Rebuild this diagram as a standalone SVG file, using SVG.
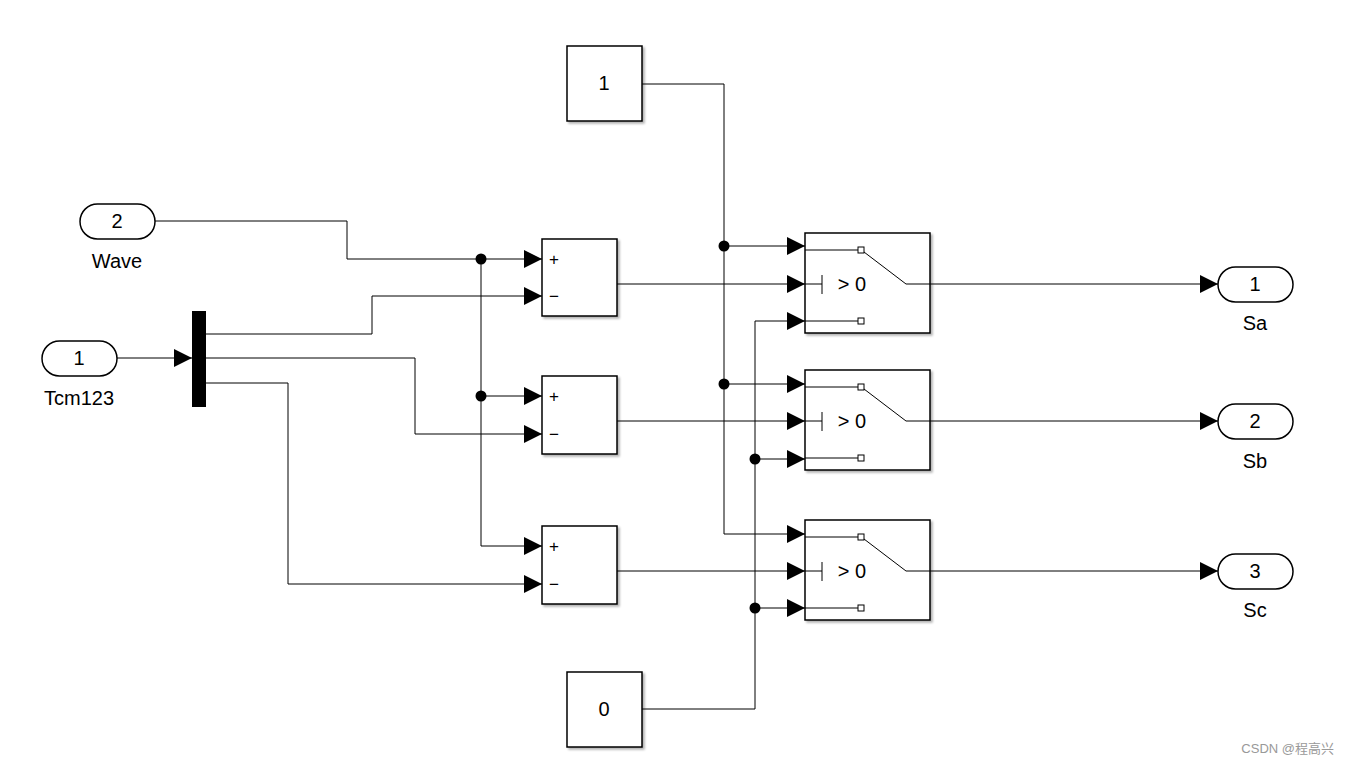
<svg xmlns="http://www.w3.org/2000/svg" width="1350" height="766" viewBox="0 0 1350 766">
<style>
.b{fill:#fff;stroke:#000;stroke-width:1.5}
.w{fill:none;stroke:#000;stroke-width:1}
.t{font-family:"Liberation Sans",Arial,sans-serif;font-size:20px;text-anchor:middle;fill:#000}
.s{font-family:"Liberation Sans",Arial,sans-serif;font-size:17px;fill:#000}
.sq{fill:#fff;stroke:#000;stroke-width:1}
</style>
<defs>
<marker id="a" markerWidth="18" markerHeight="18" refX="18" refY="9" orient="auto" markerUnits="userSpaceOnUse"><path d="M0,0L18,9L0,18Z"/></marker>
<filter id="sh"><feDropShadow dx="2" dy="2" stdDeviation="1" flood-opacity="0.3"/></filter>
</defs>
<rect width="1350" height="766" fill="#fff"/>
<g id="connectors" class="w">
<path d="M155,221H347V259H542" marker-end="url(#a)"/>
<path d="M481,259V546H542" marker-end="url(#a)"/>
<path d="M481,396H542" marker-end="url(#a)"/>
<path d="M206,334H372V296H542" marker-end="url(#a)"/>
<path d="M206,358H415V434H542" marker-end="url(#a)"/>
<path d="M206,383H288V584H542" marker-end="url(#a)"/>
<path d="M117,358H192" marker-end="url(#a)"/>
<path d="M642,84H724V534H805" marker-end="url(#a)"/>
<path d="M724,246H805" marker-end="url(#a)"/>
<path d="M724,384H805" marker-end="url(#a)"/>
<path d="M642,709H755V321H805" marker-end="url(#a)"/>
<path d="M755,459H805" marker-end="url(#a)"/>
<path d="M755,608H805" marker-end="url(#a)"/>
<path d="M617,284H805" marker-end="url(#a)"/>
<path d="M617,421H805" marker-end="url(#a)"/>
<path d="M617,571H805" marker-end="url(#a)"/>
<path d="M930,284H1218" marker-end="url(#a)"/>
<path d="M930,421H1218" marker-end="url(#a)"/>
<path d="M930,571H1218" marker-end="url(#a)"/>
<g fill="#000" stroke="none">
<circle cx="481" cy="259" r="5.5"/><circle cx="481" cy="396" r="5.5"/>
<circle cx="724" cy="246" r="5.5"/><circle cx="724" cy="384" r="5.5"/>
<circle cx="755" cy="459" r="5.5"/><circle cx="755" cy="608" r="5.5"/>
</g>
</g>
<g id="wave"><rect class="b" x="80" y="204" width="75" height="35" rx="17.5"/><text class="t" x="117" y="228">2</text><text class="t" x="117" y="268">Wave</text></g>
<g id="tcm"><rect class="b" x="42" y="341" width="75" height="35" rx="17.5"/><text class="t" x="79" y="365">1</text><text class="t" x="79" y="405">Tcm123</text></g>
<g id="demux"><rect x="192" y="311" width="14" height="96" fill="#000"/></g>
<g id="c1"><rect class="b" x="567" y="46" width="75" height="75" filter="url(#sh)"/><text class="t" x="604" y="90">1</text></g>
<g id="c0"><rect class="b" x="567" y="672" width="75" height="75" filter="url(#sh)"/><text class="t" x="604" y="716">0</text></g>
<g id="sumA"><rect class="b" x="542" y="239" width="75" height="77" filter="url(#sh)"/><text class="s" x="549" y="265">+</text><text class="s" x="549" y="302">−</text></g>
<g id="sumB"><rect class="b" x="542" y="376" width="75" height="78" filter="url(#sh)"/><text class="s" x="549" y="402">+</text><text class="s" x="549" y="440">−</text></g>
<g id="sumC"><rect class="b" x="542" y="526" width="75" height="78" filter="url(#sh)"/><text class="s" x="549" y="552">+</text><text class="s" x="549" y="590">−</text></g>
<g id="swA" transform="translate(0,0)"><rect class="b" x="805" y="233" width="125" height="100" filter="url(#sh)"/>
<path class="w" d="M805,250H858M864,252L906,284H930M805,284H822M822,275V294M805,321H858"/><rect class="sq" x="858" y="247" width="6" height="6"/><rect class="sq" x="858" y="318" width="6" height="6"/><text class="t" x="852" y="291">&gt; 0</text></g>
<g id="swB" transform="translate(0,137)"><rect class="b" x="805" y="233" width="125" height="100" filter="url(#sh)"/>
<path class="w" d="M805,250H858M864,252L906,284H930M805,284H822M822,275V294M805,321H858"/><rect class="sq" x="858" y="247" width="6" height="6"/><rect class="sq" x="858" y="318" width="6" height="6"/><text class="t" x="852" y="291">&gt; 0</text></g>
<g id="swC" transform="translate(0,287)"><rect class="b" x="805" y="233" width="125" height="100" filter="url(#sh)"/>
<path class="w" d="M805,250H858M864,252L906,284H930M805,284H822M822,275V294M805,321H858"/><rect class="sq" x="858" y="247" width="6" height="6"/><rect class="sq" x="858" y="318" width="6" height="6"/><text class="t" x="852" y="291">&gt; 0</text></g>
<g id="sa"><rect class="b" x="1218" y="267" width="75" height="35" rx="17.5"/><text class="t" x="1255" y="291">1</text><text class="t" x="1255" y="330">Sa</text></g>
<g id="sb"><rect class="b" x="1218" y="404" width="75" height="35" rx="17.5"/><text class="t" x="1255" y="428">2</text><text class="t" x="1255" y="468">Sb</text></g>
<g id="sc"><rect class="b" x="1218" y="554" width="75" height="35" rx="17.5"/><text class="t" x="1255" y="578">3</text><text class="t" x="1255" y="617">Sc</text></g>
<text x="1334" y="753" text-anchor="end" style="font-family:'Liberation Sans','Noto Sans CJK SC',sans-serif;font-size:13px;fill:#999">CSDN @程高兴</text>
</svg>
